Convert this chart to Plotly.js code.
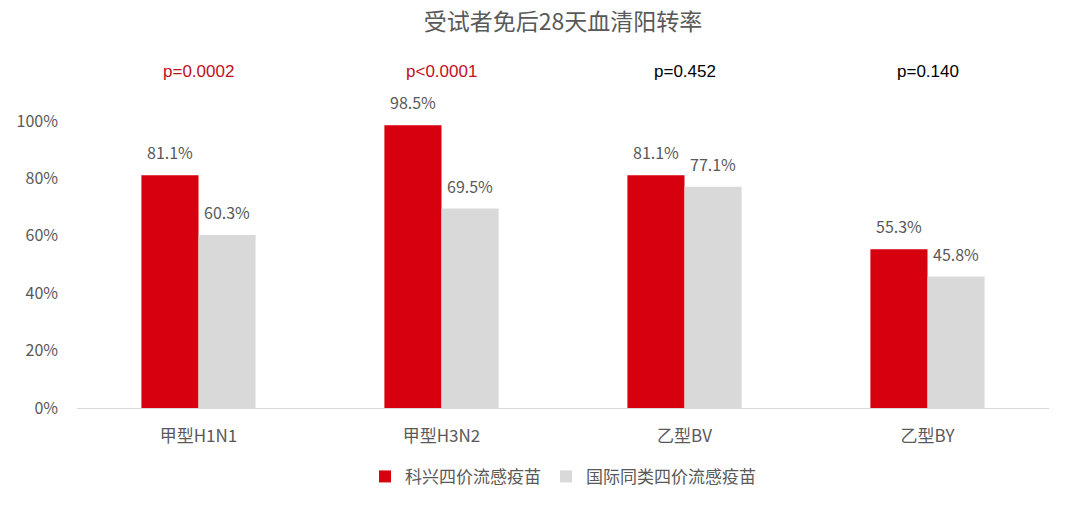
<!DOCTYPE html>
<html>
<head>
<meta charset="utf-8">
<script src="https://cdn.plot.ly/plotly-3.0.1.min.js"></script>
<style>
  html, body { margin: 0; padding: 0; background: #fff; }
  #chart { width: 1080px; height: 512px; }
</style>
</head>
<body>
<div id="chart"></div>
<script>
var categories = ['甲型H1N1', '甲型H3N2', '乙型BV', '乙型BY'];
var sinovac = [81.1, 98.5, 81.1, 55.3];
var imported = [60.3, 69.5, 77.1, 45.8];
var pValues = ['p=0.0002', 'p<0.0001', 'p=0.452', 'p=0.140'];
var pColors = ['#c0101c', '#c0101c', '#000000', '#000000'];

var font = '"Noto Sans CJK SC", "Noto Sans", sans-serif';
var labelFont = { family: font, size: 16, color: '#595959' };

var W = 1080, H = 512;
var margin = { l: 77, r: 31, t: 121, b: 104 };
var bargap = 0.53;
// half a bar in pixels, used to centre the value labels over each bar
var catPx = (W - margin.l - margin.r) / categories.length;
var halfBar = catPx * (1 - bargap) / 4;

var trace1 = {
  x: categories,
  y: sinovac,
  name: '科兴四价流感疫苗',
  type: 'bar',
  marker: { color: '#d7000f' },
  hoverinfo: 'none'
};
var trace2 = {
  x: categories,
  y: imported,
  name: '国际同类四价流感疫苗',
  type: 'bar',
  marker: { color: '#d9d9d9' },
  hoverinfo: 'none'
};

var annotations = [];
for (var i = 0; i < categories.length; i++) {
  annotations.push({
    x: categories[i], y: 1.171, xref: 'x', yref: 'paper', yanchor: 'middle',
    text: pValues[i], showarrow: false,
    font: { family: '"Liberation Sans", Arial, sans-serif', size: 17, color: pColors[i] }
  });
  annotations.push({
    x: categories[i], y: sinovac[i], xref: 'x', yref: 'y',
    xshift: -halfBar, yshift: 9, yanchor: 'bottom',
    text: sinovac[i].toFixed(1) + '%', showarrow: false, font: labelFont
  });
  annotations.push({
    x: categories[i], y: imported[i], xref: 'x', yref: 'y',
    xshift: halfBar, yshift: 9, yanchor: 'bottom',
    text: imported[i].toFixed(1) + '%', showarrow: false, font: labelFont
  });
}

var layout = {
  width: W,
  height: H,
  margin: margin,
  paper_bgcolor: '#fff',
  plot_bgcolor: '#fff',
  title: {
    text: '受试者免后28天血清阳转率',
    x: 0.5,
    xref: 'paper',
    y: 0.957,
    yanchor: 'middle',
    font: { family: font, size: 23, color: '#595959' }
  },
  barmode: 'group',
  bargap: bargap,
  bargroupgap: 0,
  xaxis: {
    showline: true,
    linecolor: '#d9d9d9',
    linewidth: 1,
    ticks: '',
    ticklabelstandoff: 13,
    tickfont: { family: font, size: 17, color: '#595959' },
    fixedrange: true
  },
  yaxis: {
    range: [0, 100],
    dtick: 20,
    ticksuffix: '%',
    showgrid: false,
    zeroline: false,
    showline: false,
    ticklabelstandoff: 18,
    tickfont: { family: font, size: 16, color: '#595959' },
    fixedrange: true
  },
  legend: {
    orientation: 'h',
    x: 0.5,
    xanchor: 'center',
    y: -0.24,
    yanchor: 'middle',
    font: { family: font, size: 17, color: '#595959' },
    itemwidth: 30
  },
  annotations: annotations
};

Plotly.newPlot('chart', [trace1, trace2], layout, { displayModeBar: false, staticPlot: true });
</script>
</body>
</html>
